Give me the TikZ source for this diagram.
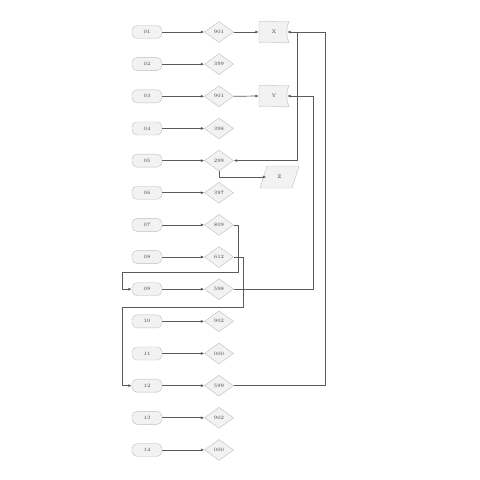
\documentclass[tikz,border=0pt]{standalone}
\usetikzlibrary{shapes.geometric,arrows.meta,calc}
\definecolor{shfill}{HTML}{F2F2F2}
\definecolor{shdraw}{HTML}{BEBEBE}
\definecolor{conn}{HTML}{5A5A5A}
\tikzset{
  rbox/.style={draw=shdraw,fill=shfill,rounded corners=5pt,minimum width=30pt,minimum height=13pt,inner sep=0pt,font=\fontsize{5}{6}\selectfont,text=black!75},
  dmd/.style={diamond,draw=shdraw,fill=shfill,minimum width=29pt,minimum height=21pt,inner sep=0pt,font=\fontsize{5}{6}\selectfont,text=black!75},
  ghost/.style={minimum width=30pt,minimum height=21pt,inner sep=0pt,font=\fontsize{5}{6}\selectfont,text=black!75},
  cn/.style={draw=conn,line width=0.7pt},
  ar/.style={cn,-{Latex[length=3.5pt,width=3pt]}}
}
\begin{document}
\begin{tikzpicture}[x=1pt,y=-1pt]
\useasboundingbox (0,0) rectangle (480,480);
\foreach \i/\lab/\dl in {1/01/901,2/02/399,3/03/901,4/04/398,5/05/299,6/06/397,7/07/809,8/08/612,9/09/598,10/10/902,11/11/000,12/12/599,13/13/902,14/14/000}{
  \pgfmathsetmacro{\yy}{32+32.15*(\i-1)}
  \node[rbox] (r\i) at (147,\yy) {\lab};
  \node[dmd] (d\i) at (219,\yy) {\dl};
  \draw[ar] (r\i.east) -- (d\i.west);
}
% X and Y shapes
\foreach \nm/\yy in {X/32,Y/96}{
  \draw[draw=shdraw,fill=shfill] (259,\yy-10.5) .. controls (269,\yy-12) and (279,\yy-9) .. (289,\yy-10.5)
     .. controls (286,\yy-3) and (286,\yy+3) .. (289,\yy+10.5)
     .. controls (279,\yy+12) and (269,\yy+9) .. (259,\yy+10.5) -- cycle;
  \node[ghost] (\nm) at (274,\yy) {\nm};
}
% Z parallelogram
\draw[draw=shdraw,fill=shfill] (267,166) -- (299,166) -- (292,188) -- (260,188) -- cycle;
\node[ghost,minimum width=26pt] (Z) at (279.5,177) {Z};
% connectors
\draw[ar] (d1.east) -- (X.west);
\draw[ar] (d3.east) -- (Y.west);
\coordinate (jx) at ($(X.east)+(8,0)$);
\coordinate (px) at ($(X.east)+(36,0)$);
\coordinate (py) at ($(Y.east)+(24,0)$);
\draw[ar] (d12.east) -| (px) -- ([xshift=-2pt]X.east);
\draw[ar] (jx) |- (d5.east);
\draw[ar] (d9.east) -| (py) -- ([xshift=-2pt]Y.east);
\draw[ar] (d5.south) |- (Z.west);
\coordinate (a1) at (238,272);
\coordinate (a2) at (122,272);
\draw[ar] (d7.east) -| (a1) -- (a2) |- (r9.west);
\coordinate (b1) at (243,307);
\coordinate (b2) at (122,307);
\draw[ar] (d8.east) -| (b1) -- (b2) |- (r12.west);
\end{tikzpicture}
\end{document}
